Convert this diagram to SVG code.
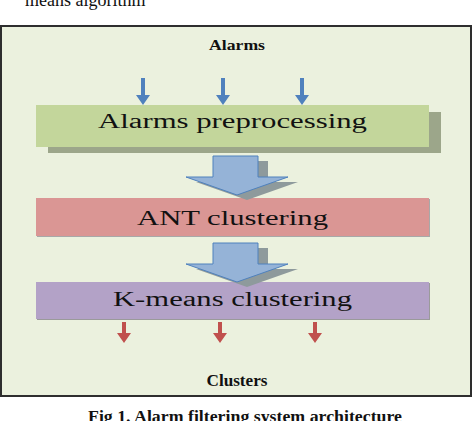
<svg xmlns="http://www.w3.org/2000/svg" width="474" height="421" viewBox="0 0 474 421">
<defs>
<style>
.t{font-family:"Liberation Serif","Times New Roman",serif;fill:#111}
.b{font-weight:bold}
.box{font-size:20px}
.blk{fill:#95b3d7;stroke:#4f81bd;stroke-width:1}
.shd{fill:#8e9a9c}
</style>
<marker id="ab" viewBox="0 0 12 10" refX="6" refY="10" markerWidth="12" markerHeight="10" markerUnits="userSpaceOnUse" orient="auto-start-reverse">
</marker>
</defs>
<rect width="474" height="421" fill="#ffffff"/>
<text class="t" x="25" y="6" font-size="18">means algorithm</text>
<rect id="frame" x="1" y="26" width="470" height="370" fill="#ebf1de" stroke="#2e2e2e" stroke-width="2"/>
<g id="alarms"><text class="t b" x="237" y="50" font-size="15" text-anchor="middle" textLength="56" lengthAdjust="spacingAndGlyphs">Alarms</text></g>
<g id="preprocessing">
<rect x="48" y="112" width="393" height="41" fill="#9ca68a"/>
<rect x="36" y="105" width="393" height="42" fill="#c3d69b"/>
<text class="t box" x="98" y="128" textLength="269" lengthAdjust="spacingAndGlyphs">Alarms preprocessing</text>
</g>
<g id="ant">
<rect x="37" y="199" width="393" height="38" fill="#a8a8a8"/>
<rect x="36" y="198" width="393" height="38" fill="#da9694"/>
<text class="t box" x="137" y="225" textLength="191" lengthAdjust="spacingAndGlyphs">ANT clustering</text>
</g>
<g id="kmeans">
<rect x="37" y="283" width="393" height="37" fill="#9a9a9a"/>
<rect x="36" y="282" width="393" height="37" fill="#b3a2c7"/>
<text class="t box" x="113" y="306" textLength="239" lengthAdjust="spacingAndGlyphs">K-means clustering</text>
</g>
<g id="clusters"><text class="t b" x="237" y="386" font-size="16" text-anchor="middle" textLength="61" lengthAdjust="spacingAndGlyphs">Clusters</text></g>
<g id="connectors">
<g fill="#4f81bd">
<path d="M141,78h4v17h5l-7,10l-7,-10h5z"/>
<path d="M221,78h4v17h5l-7,10l-7,-10h5z"/>
<path d="M300,78h4v17h5l-7,10l-7,-10h5z"/>
</g>
<path class="shd" d="M223,161h45v21h30l-51,18l-51,-18h27z"/>
<path class="blk" d="M213,156h45v21h30l-51,18l-51,-18h27z"/>
<path class="shd" d="M223,248h45v21h30l-51,18l-51,-18h27z"/>
<path class="blk" d="M213,243h45v21h30l-51,18l-51,-18h27z"/>
<g fill="#c0504d">
<path d="M122,322h4v11h5l-7,10l-7,-10h5z"/>
<path d="M218,322h4v11h5l-7,10l-7,-10h5z"/>
<path d="M313,322h4v11h5l-7,10l-7,-10h5z"/>
</g>
</g>
<text class="t b" x="245" y="422" font-size="17" text-anchor="middle" textLength="314" lengthAdjust="spacingAndGlyphs">Fig 1. Alarm filtering system architecture</text>
</svg>
